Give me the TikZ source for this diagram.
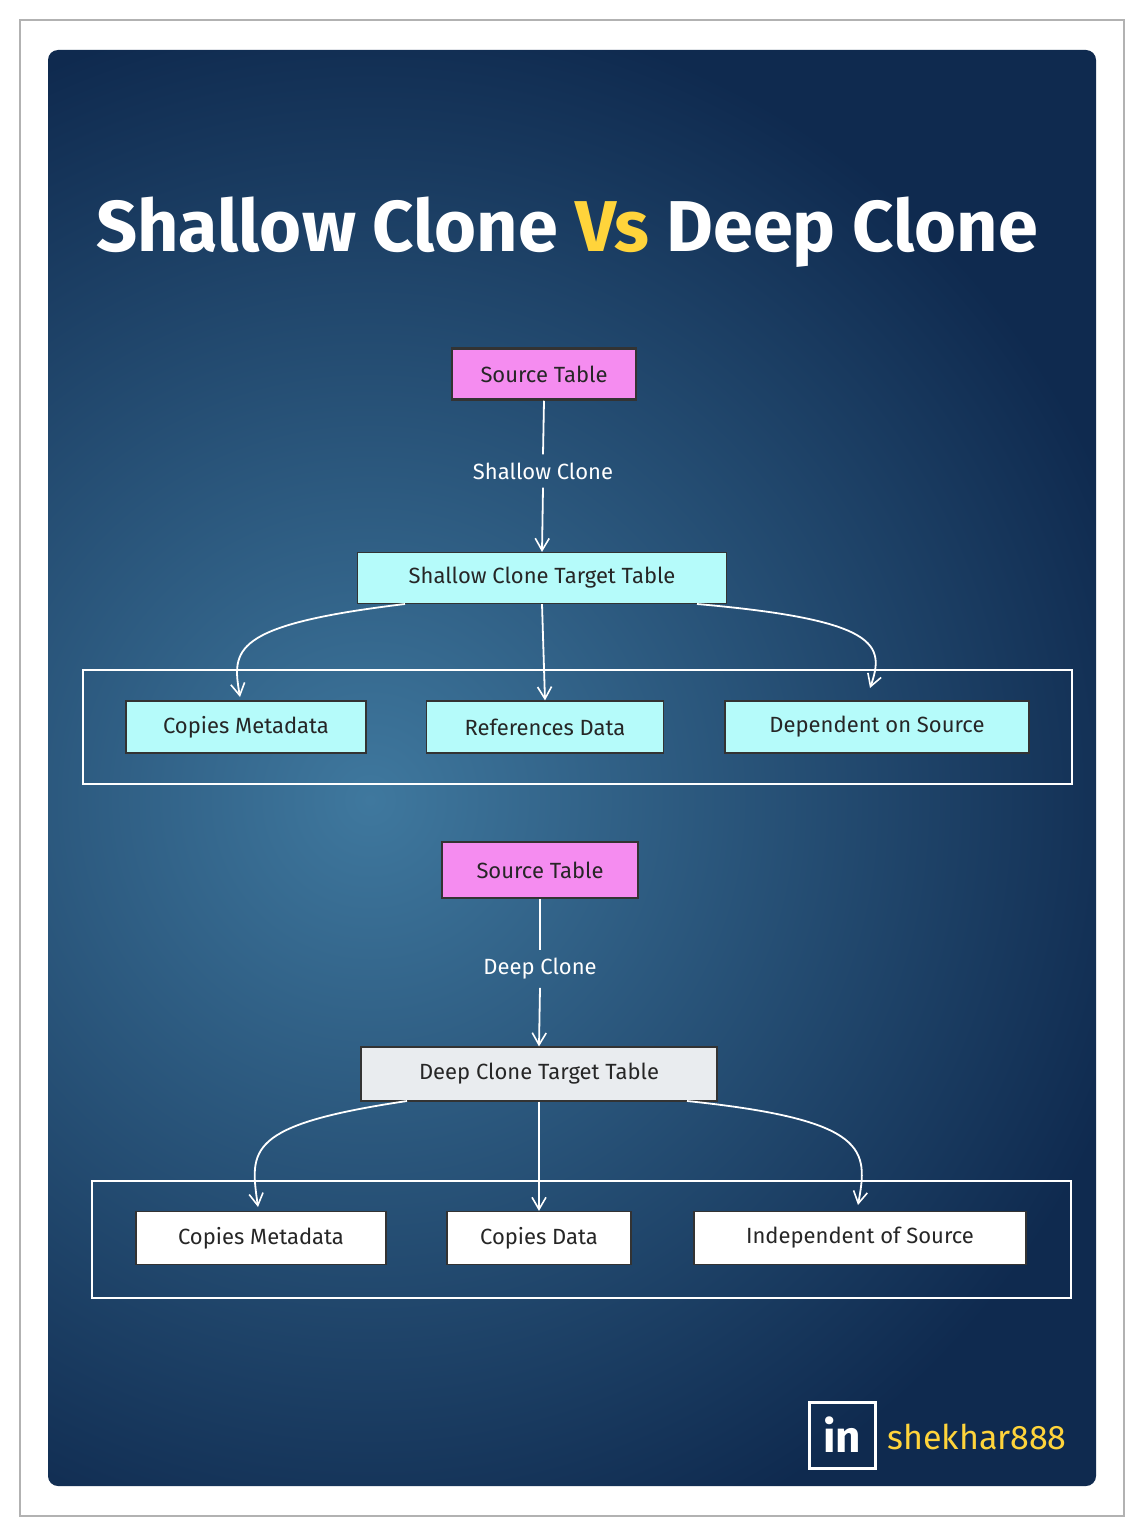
\documentclass[tikz,border=0pt]{standalone}
\usepackage{fontspec}
\setmainfont{Fira Sans}
\usetikzlibrary{arrows.meta}
\definecolor{bgdark}{HTML}{0F2A4F}
\definecolor{bglight}{HTML}{3F789E}
\definecolor{pinkf}{HTML}{F58CF0}
\definecolor{cyanf}{HTML}{B5FBFA}
\definecolor{grayf}{HTML}{E9ECEF}
\definecolor{yel}{HTML}{FFD43B}
\tikzset{
  x=1pt,y=-1pt,
  box/.style={draw=black!80,line width=1.2pt,inner sep=0pt,font=\fontsize{22}{24}\selectfont,text=black!85},
  conn/.style={draw=white,line width=1.8pt,-{Straight Barb[length=12pt,width=14pt,line width=1.6pt]}},
  plain/.style={draw=white,line width=1.8pt},
  lab/.style={text=white,font=\fontsize{22}{24}\selectfont,inner sep=8pt},
  grp/.style={draw=white,line width=1.5pt}
}
\begin{document}
\begin{tikzpicture}
\useasboundingbox (0,0) rectangle (1144,1536);
\fill[white] (0,0) rectangle (1144,1536);
\draw[black!30,line width=1.5pt] (20,20) rectangle (1124,1516);
\begin{scope}
\clip[rounded corners=10pt] (48,50) rectangle (1096,1486);
\shade[inner color=bglight,outer color=bgdark] (-430,0) rectangle (1170,1600);
\end{scope}
\node[text=white,font=\fontsize{72}{76}\selectfont\bfseries] (title) at (567,232) {Shallow Clone \textcolor{yel}{Vs} Deep Clone};
% shallow
\node[box,fill=pinkf,line width=2.5pt,minimum width=184pt,minimum height=51pt] (s1) at (544,374) {Source Table};
\node[box,fill=cyanf,minimum width=369pt,minimum height=51pt] (t1) at (542,578) {Shallow Clone Target Table};
\draw[grp] (83,670) rectangle (1072,784);
\node[box,fill=cyanf,minimum width=240pt,minimum height=52pt] (a1) at (246,727) {Copies Metadata};
\node[box,fill=cyanf,minimum width=237pt,minimum height=52pt] (b1) at (545,727) {References Data};
\node[box,fill=cyanf,minimum width=304pt,minimum height=52pt] (c1) at (877,727) {Dependent on Source};
\node[lab] (l1) at (543,471) {Shallow Clone};
\draw[plain] (s1.south) -- (l1.north);
\draw[conn] (l1.south) -- (t1.north);
\coordinate (t1a) at (405,604); \coordinate (t1c) at (697,604);
\coordinate (a1t) at (240,697); \coordinate (c1t) at (870,688);
\draw[conn] (t1a) .. controls (230,625) and (232,650) .. (a1t);
\draw[conn] (t1.south) -- (b1.north);
\draw[conn] (t1c) .. controls (880,620) and (885,645) .. (c1t);
% deep
\node[box,fill=pinkf,line width=2.5pt,minimum width=196pt,minimum height=56pt] (s2) at (540,870) {Source Table};
\node[box,fill=grayf,minimum width=356pt,minimum height=54pt] (t2) at (539,1074) {Deep Clone Target Table};
\draw[grp] (92,1181) rectangle (1071,1298);
\node[box,fill=white,minimum width=250pt,minimum height=53pt] (a2) at (261,1238) {Copies Metadata};
\node[box,fill=white,minimum width=184pt,minimum height=53pt] (b2) at (539,1238) {Copies Data};
\node[box,fill=white,minimum width=332pt,minimum height=53pt] (c2) at (860,1238) {Independent of Source};
\node[lab] (l2) at (540,969) {Deep Clone};
\draw[plain] (s2.south) -- (l2.north);
\draw[conn] (l2.south) -- (t2.north);
\coordinate (t2a) at (407,1101); \coordinate (t2c) at (687,1101);
\coordinate (a2t) at (258,1207); \coordinate (c2t) at (858,1205);
\draw[conn] (t2a) .. controls (245,1125) and (250,1150) .. (a2t);
\draw[conn] (t2.south) -- (b2.north);
\draw[conn] (t2c) .. controls (870,1120) and (868,1150) .. (c2t);
% logo
\node[draw=white,line width=3pt,minimum size=66pt,inner sep=0pt,text=white,font=\fontsize{44}{44}\selectfont\bfseries] (logo) at (842,1435) {in};
\node[text=yel,font=\fontsize{34}{36}\selectfont,anchor=west] (name) at (884,1437) {shekhar888};
\end{tikzpicture}
\end{document}
